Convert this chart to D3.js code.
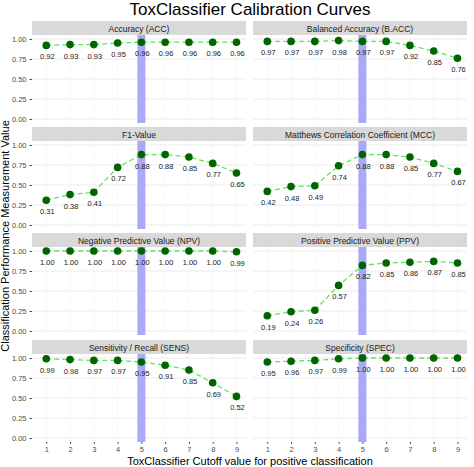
<!DOCTYPE html>
<html><head><meta charset="utf-8">
<script src="https://cdn.jsdelivr.net/npm/d3@7"></script>
<style>body{margin:0;background:#fff}text{font-family:"Liberation Sans",Arial,sans-serif}</style>
</head><body><div id="chart"></div>
<script>
const width = 474, height = 467;
const cutoffs = [1, 2, 3, 4, 5, 6, 7, 8, 9];
const titles = ["Accuracy (ACC)", "Balanced Accuracy (B.ACC)", "F1-Value", "Matthews Correlation Coefficient (MCC)",
  "Negative Predictive Value (NPV)", "Positive Predictive Value (PPV)", "Sensitivity / Recall (SENS)", "Specificity (SPEC)"];
const acc = [0.92, 0.93, 0.93, 0.95, 0.96, 0.96, 0.96, 0.96, 0.96];
const bacc = [0.97, 0.97, 0.97, 0.98, 0.97, 0.97, 0.92, 0.85, 0.76];
const f1 = [0.31, 0.38, 0.41, 0.72, 0.88, 0.88, 0.85, 0.77, 0.65];
const mcc = [0.42, 0.48, 0.49, 0.74, 0.88, 0.88, 0.85, 0.77, 0.67];
const npv = [1.00, 1.00, 1.00, 1.00, 1.00, 1.00, 1.00, 1.00, 0.99];
const ppv = [0.19, 0.24, 0.26, 0.57, 0.82, 0.85, 0.86, 0.87, 0.85];
const sens = [0.99, 0.98, 0.97, 0.97, 0.95, 0.91, 0.85, 0.69, 0.52];
const spec = [0.95, 0.96, 0.97, 0.99, 1.00, 1.00, 1.00, 1.00, 1.00];
const series = [acc, bacc, f1, mcc, npv, ppv, sens, spec];
const yTicks = [0, 0.25, 0.5, 0.75, 1];
const chosenCutoff = 5;

const svg = d3.select("#chart").append("svg").attr("width", width).attr("height", height);

svg.append("text").attr("x", 250).attr("y", 15).attr("text-anchor", "middle")
  .attr("font-size", "17px").text("ToxClassifier Calibration Curves");

const colX = [32, 253], panelW = 214;
const rowY = [21, 127, 233, 340], stripH = 14, plotH = 88;

const x = d3.scaleLinear().domain([0.4, 9.4]).range([0, panelW]);
const y = d3.scaleLinear().domain([-0.05, 1.05]).range([plotH, 0]);

series.forEach((vals, i) => {
  const col = i % 2, row = Math.floor(i / 2);
  const g = svg.append("g").attr("transform", `translate(${colX[col]},${rowY[row]})`);
  g.append("rect").attr("width", panelW).attr("height", stripH).attr("fill", "#d9d9d9");
  g.append("text").attr("x", panelW / 2).attr("y", 10.5).attr("text-anchor", "middle")
    .attr("font-size", "8.5px").attr("fill", "#1a1a1a").text(titles[i]);
  const p = g.append("g").attr("transform", `translate(0,${stripH})`);
  p.selectAll(".grid").data(yTicks).enter().append("line")
    .attr("x1", 0).attr("x2", panelW).attr("y1", d => y(d)).attr("y2", d => y(d))
    .attr("stroke", "#ebebeb").attr("stroke-width", 1);
  p.selectAll(".vgrid").data(cutoffs).enter().append("line")
    .attr("y1", 0).attr("y2", plotH).attr("x1", d => x(d)).attr("x2", d => x(d))
    .attr("stroke", "#f2f2f2").attr("stroke-width", 0.6);
  p.append("rect").attr("x", x(chosenCutoff) - 4).attr("width", 8).attr("y", 0).attr("height", plotH)
    .attr("fill", "#a9a9f7");
  const line = d3.line().x((d, j) => x(cutoffs[j])).y(d => y(d));
  p.append("path").datum(vals).attr("d", line).attr("fill", "none")
    .attr("stroke", "#66e066").attr("stroke-width", 1.3).attr("stroke-dasharray", "5,3");
  p.selectAll("circle").data(vals).enter().append("circle")
    .attr("cx", (d, j) => x(cutoffs[j])).attr("cy", d => y(d)).attr("r", 3.8).attr("fill", "#006400");
  p.selectAll(".lab").data(vals).enter().append("text")
    .attr("x", (d, j) => x(cutoffs[j]) + 1).attr("y", d => y(d) + 14)
    .attr("text-anchor", "middle").attr("font-size", "7.5px").attr("fill", "#1a1a1a")
    .text(d => d.toFixed(2));
  if (col === 0) {
    const ay = p.append("g").call(d3.axisLeft(y).tickValues(yTicks).tickFormat(d3.format(".2f")).tickSize(2.5));
    ay.select(".domain").remove();
    ay.selectAll("text").attr("font-size", "7.5px").attr("fill", "#4d4d4d");
    ay.selectAll("line").attr("stroke", "#4d4d4d");
  }
  if (row === 3) {
    const ax = p.append("g").attr("transform", `translate(0,${plotH})`)
      .call(d3.axisBottom(x).tickValues(cutoffs).tickSize(2));
    ax.select(".domain").remove();
    ax.selectAll("text").attr("font-size", "7.5px").attr("fill", "#4d4d4d").attr("dy", "0.6em");
    ax.selectAll("line").attr("stroke", "#4d4d4d");
  }
});

svg.append("text").attr("x", 250).attr("y", 465).attr("text-anchor", "middle")
  .attr("font-size", "11px").text("ToxClassifier Cutoff value for positive classification");
svg.append("text").attr("transform", "translate(9,236) rotate(-90)").attr("text-anchor", "middle")
  .attr("font-size", "11px").text("Classification Performance Measurement Value");
</script></body></html>
